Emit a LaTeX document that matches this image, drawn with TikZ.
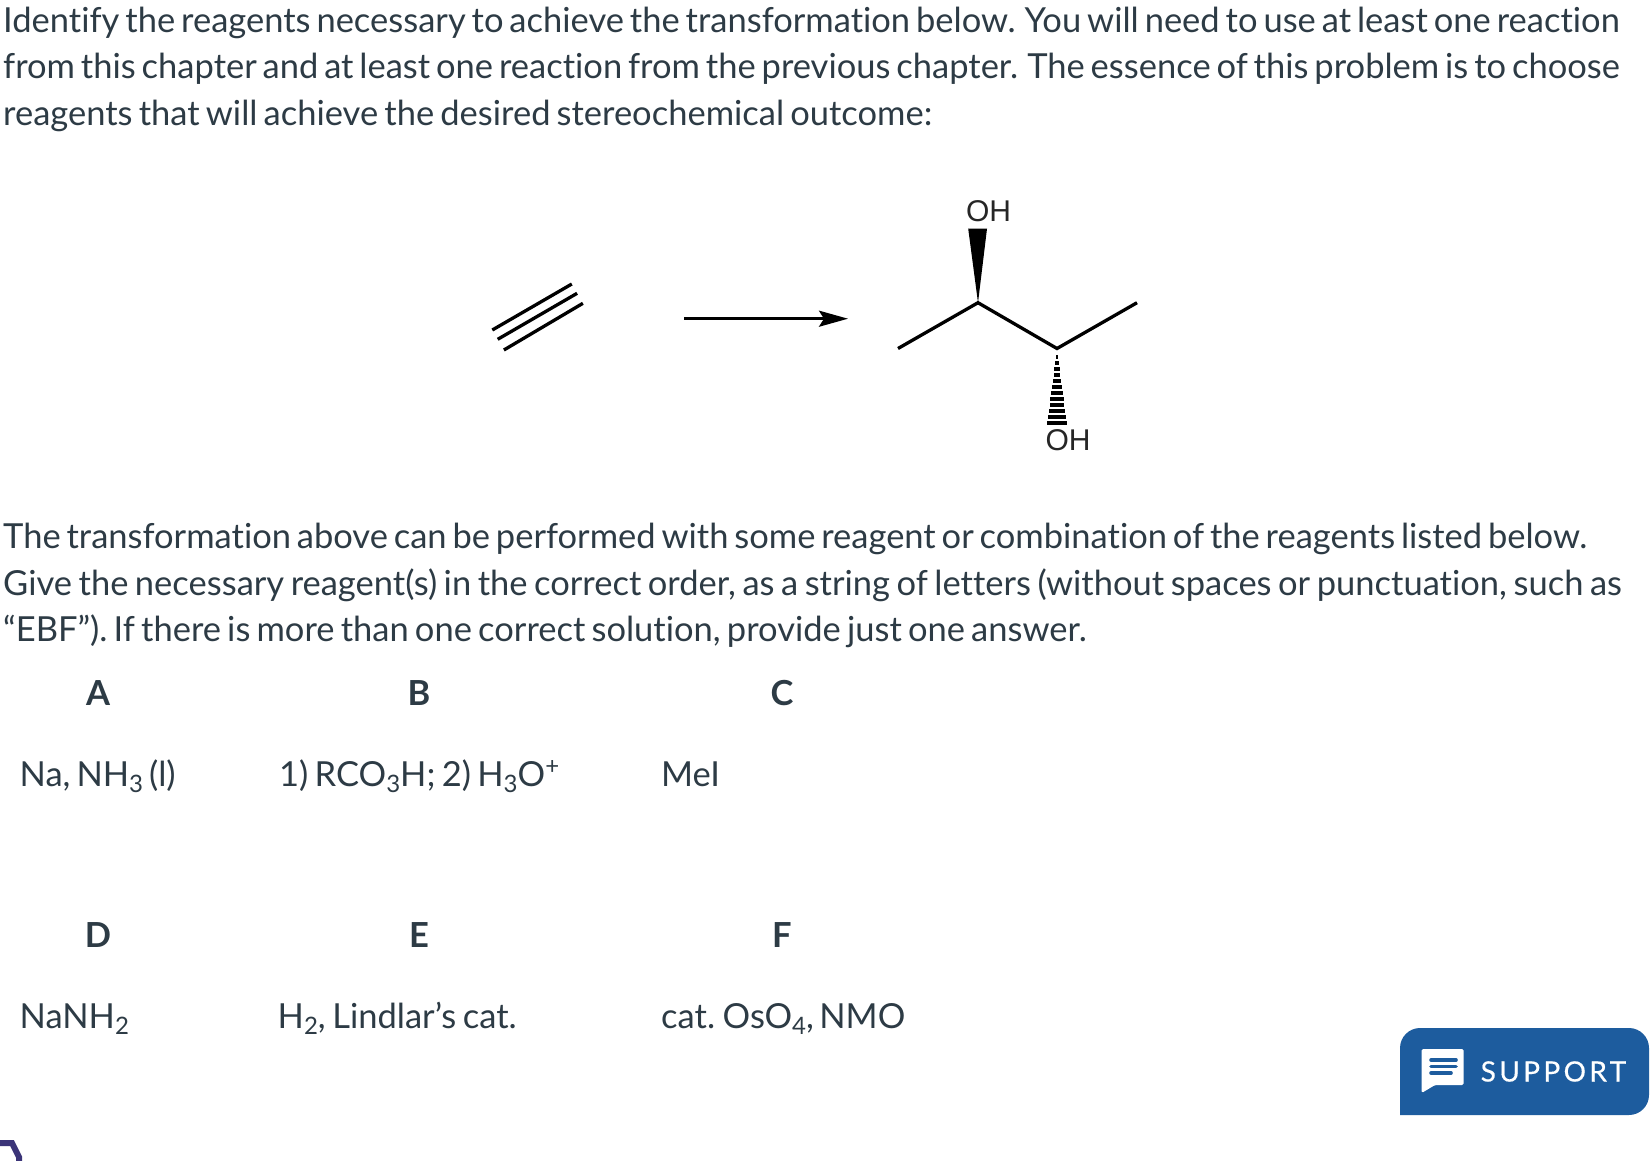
\documentclass[tikz,border=0pt]{standalone}
\usepackage{fontspec}
\setmainfont{Lato}[WordSpace=0.7,Ligatures=NoCommon]
\newfontfamily\chemfont{Liberation Sans}
\newfontfamily\spacedfont[LetterSpace=12,FakeBold=0.5]{Lato}
\usetikzlibrary{arrows.meta}
\definecolor{inkc}{HTML}{2D3B45}
\definecolor{supc}{HTML}{1D5C9E}
\definecolor{purc}{HTML}{3B3478}
\newcommand{\sbs}[1]{\raisebox{-6pt}{\fontsize{24}{24}\selectfont #1}}
\newcommand{\sps}[1]{\raisebox{12pt}{\fontsize{24}{24}\selectfont #1}}
\newcommand{\fitw}[2]{\makebox[#1pt][s]{#2}}
\tikzset{
 para/.style={anchor=base west,inner sep=0pt,text=inkc,font=\fontsize{34.5}{40}\selectfont},
 item/.style={anchor=base west,inner sep=0pt,text=inkc,font=\fontsize{34.5}{40}\selectfont},
 head/.style={anchor=base,inner sep=0pt,text=inkc,font=\fontsize{34.5}{40}\selectfont\bfseries},
 bond/.style={line width=3.3pt,black,line cap=butt},
 atom/.style={inner sep=0pt,text=black!85,font=\chemfont\fontsize{30}{30}\selectfont}
}
\begin{document}
\begin{tikzpicture}[x=1pt,y=-1pt]
\clip (0,0) rectangle (1651,1160);
\fill[white] (0,0) rectangle (1651,1160);
% top paragraph
\node[para] (l1) at (3,32) {\fitw{1616.4}{Identify the reagents necessary to achieve the transformation below. You will need to use at least one reaction}};
\node[para] (l2) at (3,78.5) {\fitw{1616.4}{from this chapter and at least one reaction from the previous chapter. The essence of this problem is to choose}};
\node[para] (l3) at (3,125) {\fitw{929}{reagents that will achieve the desired stereochemical outcome:}};
% second paragraph
\node[para] (m1) at (3,548) {\fitw{1584}{The transformation above can be performed with some reagent or combination of the reagents listed below.}};
\node[para] (m2) at (3,595) {\fitw{1618.5}{Give the necessary reagent(s) in the correct order, as a string of letters (without spaces or punctuation, such as}};
\node[para] (m3) at (3,641) {\fitw{1083.5}{“EBF”). If there is more than one correct solution, provide just one answer.}};
% table
\node[head] (ha) at (98,705.5) {A};
\node[head] (hb) at (419,705.5) {B};
\node[head] (hc) at (782,705.5) {C};
\node[item] (ia) at (19.5,786) {\fitw{156}{Na, NH\sbs{3} (l)}};
\node[item] (ib) at (279,786) {\fitw{280}{1) RCO\sbs{3}H; 2) H\sbs{3}O\sps{+}}};
\node[item] (ic) at (661,786) {MeI};
\node[head] (hd) at (98,947) {D};
\node[head] (he) at (419,947) {E};
\node[head] (hf) at (782,947) {F};
\node[item] (id) at (19.5,1028) {NaNH\sbs{2}};
\node[item] (ie) at (277.5,1028) {\fitw{239}{H\sbs{2}, Lindlar’s cat.}};
\node[item] (if) at (661,1028) {cat.\hspace{-1.6pt} OsO\sbs{4},\hspace{-0.8pt} NMO};
% alkyne
\coordinate (t1a) at (492.3,330); \coordinate (t1b) at (571.8,284);
\coordinate (t2a) at (497.7,339.3); \coordinate (t2b) at (577.1,293.3);
\coordinate (t3a) at (503.9,350); \coordinate (t3b) at (582.9,303.3);
\draw[bond] (t1a) -- (t1b);
\draw[bond] (t2a) -- (t2b);
\draw[bond] (t3a) -- (t3b);
% reaction arrow
\coordinate (ra) at (684.3,318.7); \coordinate (rb) at (848,318.7);
\draw[line width=2.6pt,black,-{Stealth[length=29pt,width=16pt,inset=5pt]}] (ra) -- (rb);
% product
\coordinate (c1) at (898,348.5); \coordinate (c2) at (978,302.7);
\coordinate (c3) at (1057,348.5); \coordinate (c4) at (1137,302.7);
\draw[bond,line join=miter] (c1) -- (c2) -- (c3) -- (c4);
\node[atom] (oh1) at (988.5,211) {OH};
\node[atom] (oh2) at (1068,440) {OH};
\fill[black] (968.2,228.7) -- (987,228.7) -- (c2) -- cycle;
\foreach \i in {0,...,11}{
  \pgfmathsetmacro{\yy}{356.7+\i*6.05}
  \pgfmathsetmacro{\ww}{1+\i*0.8}
  \fill[black] (1057-\ww,\yy-1.9) rectangle (1057+\ww,\yy+1.9);
}
% support button
\fill[supc] (1400,1115) -- (1400,1048) .. controls (1400,1037) and (1409,1028) .. (1420,1028) -- (1629,1028) .. controls (1640,1028) and (1649,1037) .. (1649,1048) -- (1649,1095) .. controls (1649,1106) and (1640,1115) .. (1629,1115) -- cycle;
\fill[white,rounded corners=1.5pt] (1421.7,1049) -- (1463.5,1049) -- (1463.5,1085) -- (1435,1085) -- (1421.7,1093) -- cycle;
\foreach \yy/\xe in {1060/1456,1066.5/1456,1073/1451}{
  \draw[supc,line width=3.6pt,line cap=round] (1431,\yy) -- (\xe,\yy);
}
\node[anchor=base west,inner sep=0pt,text=white,font=\spacedfont\fontsize{28}{28}\selectfont] (sup) at (1480.5,1081.5) {SUPPORT};
% cropped fragment
\draw[purc,line width=6pt] (0,1143) -- (12,1143) -- (16,1151) -- (19,1157) -- (19,1162);
\end{tikzpicture}
\end{document}
